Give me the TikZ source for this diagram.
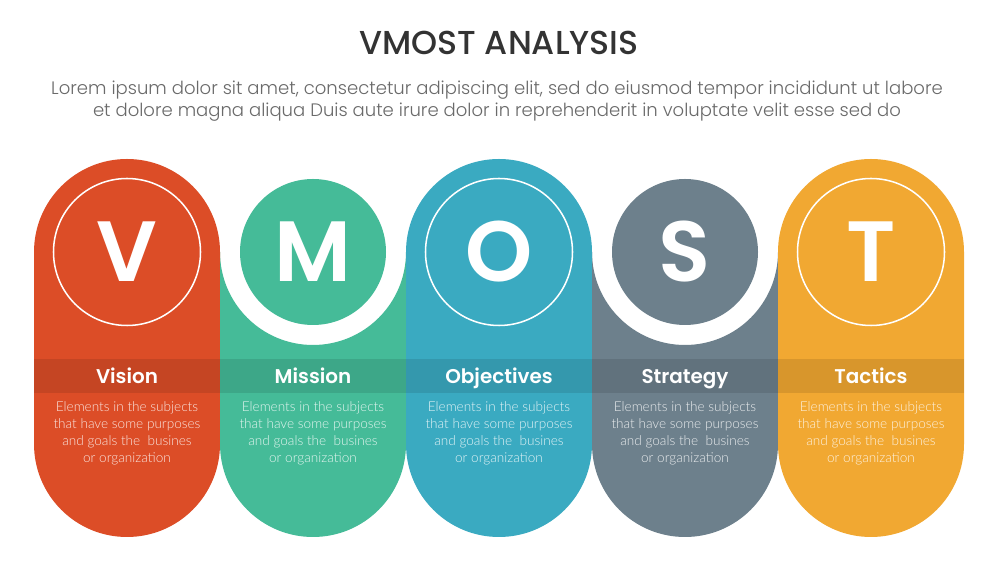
\documentclass[tikz,border=0pt]{standalone}
\usepackage{fontspec}
\setmainfont{Poppins}
\newfontfamily\plight{Poppins Light}
\newfontfamily\pmed{Poppins Medium}
\newfontfamily\psemi{Poppins SemiBold}
\newfontfamily\latol{Lato Light}
\definecolor{cV}{HTML}{DC4D27}
\definecolor{cM}{HTML}{45BB98}
\definecolor{cO}{HTML}{3AAAC1}
\definecolor{cS}{HTML}{6D808C}
\definecolor{cT}{HTML}{F1A832}
\definecolor{titlegray}{HTML}{333333}
\definecolor{subgray}{HTML}{6A6A6A}
\newcommand\vmcap[2]{\fill[#2] (#1-93,311) arc (180:0:93) -- (#1+93,119) arc (0:-180:93) -- cycle;}
\newcommand\vmcup[2]{\fill[#2] (#1-93,311) -- (#1-93,119) arc (180:360:93) -- (#1+93,311) arc (0:-180:93) -- cycle;}
\begin{document}
\begin{tikzpicture}[x=0.03cm,y=0.03cm,
  ring/.style={draw=white,line width=1.3pt},
  disc/.style={draw=none},
  letter/.style={text=white,font=\psemi\fontsize{73}{73}\selectfont,anchor=base,inner sep=0},
  lbl/.style={text=white,font=\psemi\fontsize{17}{17}\selectfont,anchor=base,inner sep=0},
  desc/.style={text=white,text opacity=0.85,font=\latol\fontsize{11.6}{14.6}\selectfont,align=center,inner sep=0},
  band/.style={fill=black,fill opacity=0.1,draw=none},
  title/.style={text=titlegray,font=\pmed\fontsize{28.3}{28.3}\selectfont,anchor=base,inner sep=0},
  sub/.style={text=subgray,font=\plight\fontsize{15.4}{15.4}\selectfont,anchor=base,inner sep=0}]
\useasboundingbox (0,0) rectangle (1000,563);
\fill[white] (0,0) rectangle (1000,563);
% column shapes
\vmcap{127}{cV}
\vmcup{313}{cM}
\vmcap{499}{cO}
\vmcup{685}{cS}
\vmcap{871}{cT}
% circles
\draw[ring] (127,311) circle (73.5);
\fill[cM,disc] (313,311) circle (73);
\draw[ring] (499,311) circle (73.5);
\fill[cS,disc] (685,311) circle (73);
\draw[ring] (871,311) circle (73.5);
% letters
\node[letter] (lV) at (127,281) {V};
\node[letter] (lM) at (313,281) {M};
\node[letter] (lO) at (499,281) {O};
\node[letter] (lS) at (685,281) {S};
\node[letter] (lT) at (871,281) {T};
% band
\fill[band] (34,170) rectangle (964,204);
% labels
\node[lbl] (nV) at (127,179) {Vision};
\node[lbl] (nM) at (313,179) {Mission};
\node[lbl] (nO) at (499,179) {Objectives};
\node[lbl] (nS) at (685,179) {Strategy};
\node[lbl] (nT) at (871,179) {Tactics};
% descriptions
\foreach \cx/\nm in {127/dV,313/dM,499/dO,685/dS,871/dT}{
  \node[desc] (\nm) at (\cx,129.5) {Elements in the subjects\\that have some purposes\\and goals the~ busines\\or organization};
}
% title
\node[title] (ttl) at (499,508) {VMOST ANALYSIS};
\node[sub] (s1) at (497,468) {Lorem ipsum dolor sit amet, consectetur adipiscing elit, sed do eiusmod tempor incididunt ut labore};
\node[sub] (s2) at (497,446) {et dolore magna aliqua Duis aute irure dolor in reprehenderit in voluptate velit esse sed do};
\end{tikzpicture}
\end{document}
